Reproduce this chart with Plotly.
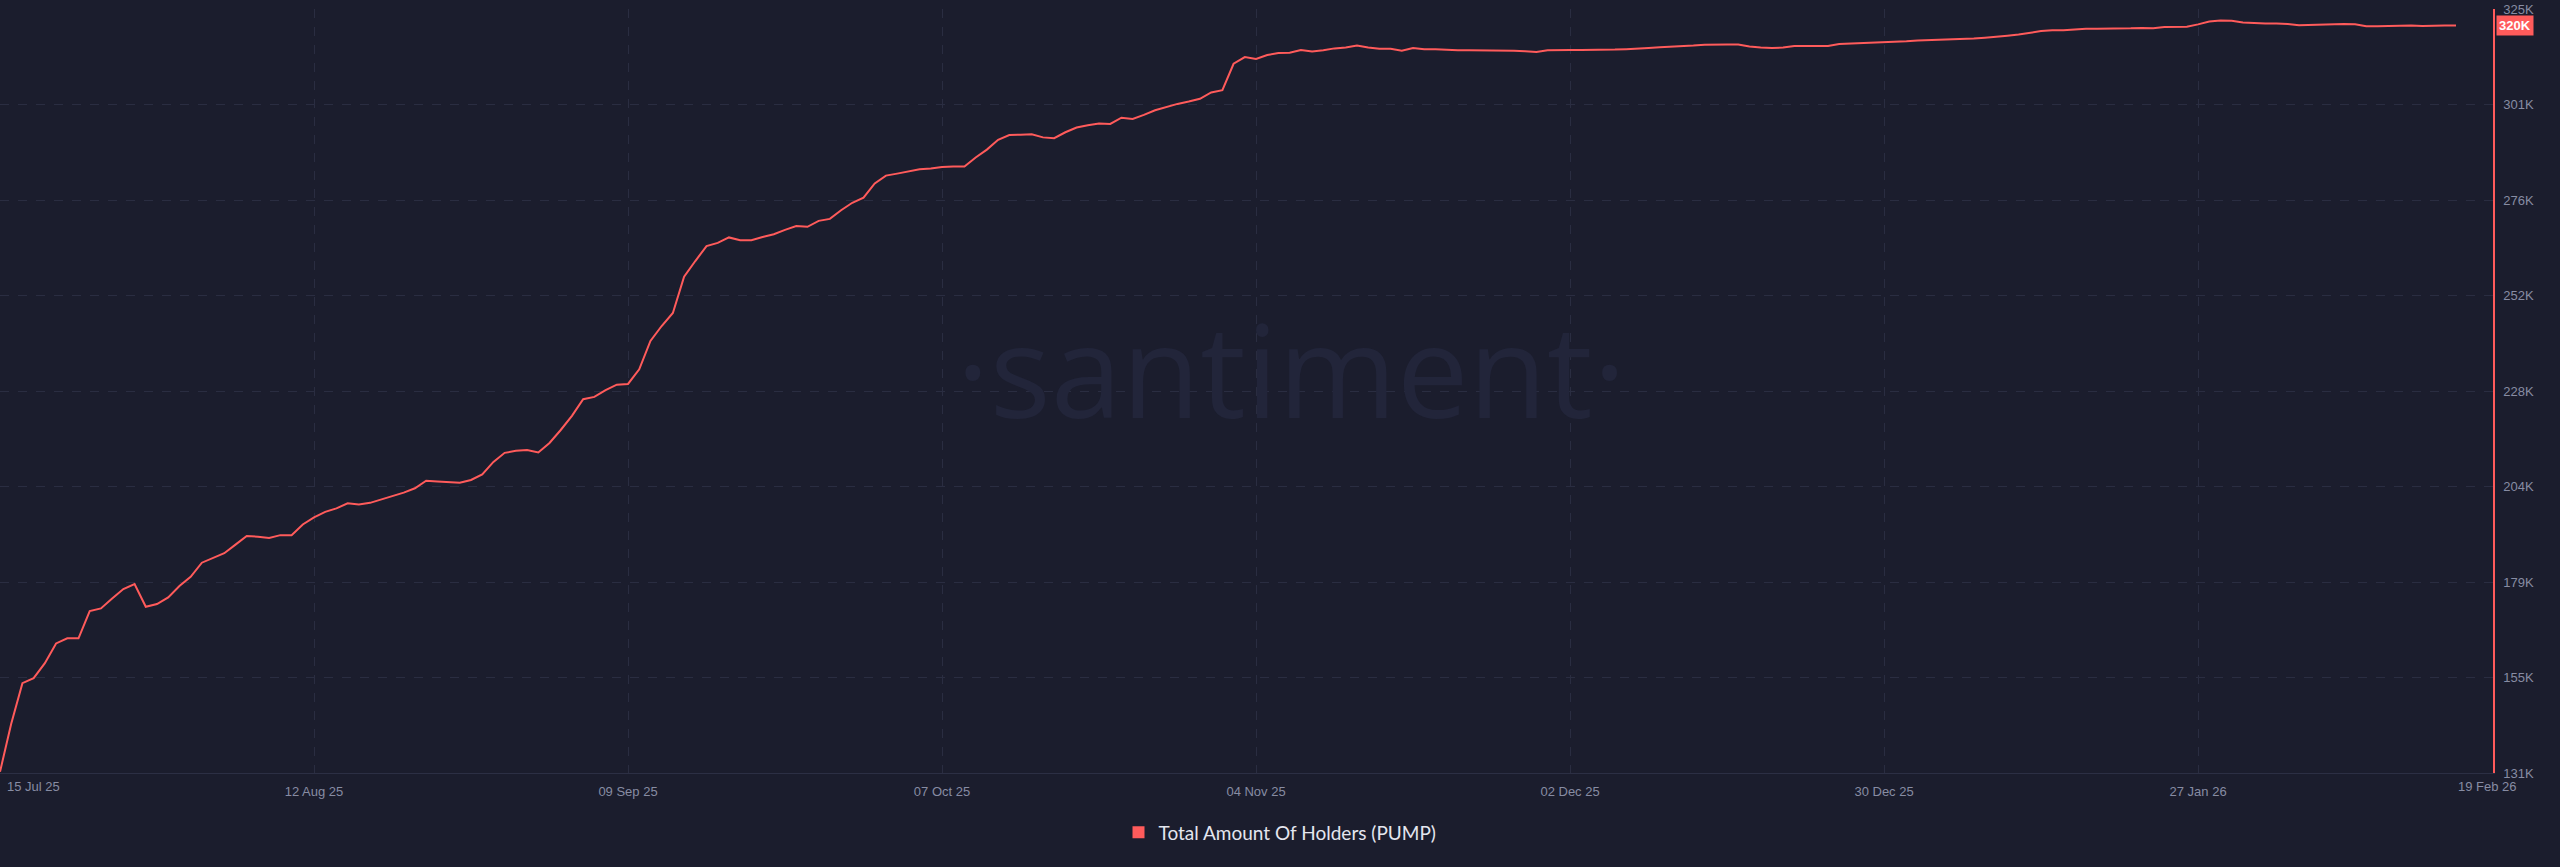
import pandas as pd
import plotly.graph_objects as go

# Total holders of PUMP, one value per day (thousands), 15 Jul 2025 -> 19 Feb 2026
jul_values = [131.3, 143.5, 153.8, 155.1, 158.9, 163.9, 165.2, 165.2, 172.1, 172.8,
              175.3, 177.7, 179.0, 173.2, 173.9, 175.6, 178.5]
aug_values = [180.8, 184.4, 185.6, 186.8, 189.0, 191.2, 191.0, 190.7, 191.4, 191.4,
              194.1, 195.9, 197.3, 198.2, 199.5, 199.2, 199.6, 200.5, 201.2, 202.2,
              203.3, 205.2, 205.0, 204.8, 204.7, 205.4, 206.8, 210.0, 212.3, 212.8, 213.0]
sep_values = [212.4, 214.8, 218.1, 221.7, 225.9, 226.5, 228.2, 229.6, 229.8, 233.5,
              240.7, 244.5, 247.8, 257.0, 261.0, 264.8, 265.6, 267.0, 266.3, 266.3,
              267.1, 267.8, 268.9, 269.9, 269.7, 271.2, 271.7, 273.9, 275.8, 277.1]
oct_values = [280.7, 282.7, 283.2, 283.8, 284.3, 284.5, 284.9, 285.0, 285.0, 287.3,
              289.3, 291.8, 293.0, 293.1, 293.2, 292.4, 292.2, 293.7, 294.9, 295.5,
              295.9, 295.8, 297.4, 297.1, 298.1, 299.3, 300.1, 300.9, 301.5, 302.2, 303.8]
nov_values = [304.4, 311.1, 312.8, 312.3, 313.3, 313.8, 313.9, 314.6, 314.2, 314.5,
              315.0, 315.2, 315.7, 315.2, 314.9, 314.9, 314.4, 315.1, 314.8, 314.8,
              314.6, 314.5, 314.5, 314.5, 314.4, 314.4, 314.4, 314.3, 314.1, 314.5]
dec_values = [314.6, 314.6, 314.6, 314.6, 314.7, 314.7, 314.8, 314.9, 315.1, 315.3,
              315.4, 315.5, 315.7, 315.9, 316.0, 316.0, 316.0, 315.5, 315.2, 315.1,
              315.2, 315.6, 315.6, 315.6, 315.6, 316.1, 316.2, 316.3, 316.4, 316.5, 316.6]
jan_values = [316.8, 317.0, 317.1, 317.1, 317.2, 317.3, 317.5, 317.7, 317.9, 318.2,
              318.5, 319.0, 319.4, 319.6, 319.6, 319.8, 320.0, 320.0, 320.0, 320.1,
              320.1, 320.2, 320.1, 320.4, 320.4, 320.5, 321.1, 321.8, 322.1, 322.0, 321.6]
feb_values = [321.4, 321.3, 321.3, 321.2, 320.9, 321.0, 321.0, 321.1, 321.2, 321.1,
              320.6, 320.6, 320.7, 320.8, 320.8, 320.7, 320.8, 320.8, 320.8]

start_date = "2025-07-15"
end_date = "2026-02-19"

y_tick_vals = [131000, 155250, 179500, 203750, 228000, 252250, 276500, 300750, 325000]
y_tick_text = ["131K", "155K", "179K", "204K", "228K", "252K", "276K", "301K", "325K"]
x_tick_vals = ["2025-08-12", "2025-09-09", "2025-10-07", "2025-11-04",
               "2025-12-02", "2025-12-30", "2026-01-27"]
x_tick_text = ["12 Aug 25", "09 Sep 25", "07 Oct 25", "04 Nov 25",
               "02 Dec 25", "30 Dec 25", "27 Jan 26"]
series_name = "Total Amount Of Holders (PUMP)"
last_label = "320K"

BG = "#1b1d2d"
RED = "#ff5b5b"
GRID = "#2a2d41"
TICK = "#878ca3"

holders = [v * 1000 for v in jul_values + aug_values + sep_values + oct_values
           + nov_values + dec_values + jan_values + feb_values]
dates = pd.date_range(start_date, end_date, freq="D")
df = pd.DataFrame({"datetime": dates, "holders": holders})

fig = go.Figure()

fig.add_trace(go.Scatter(
    x=df["datetime"],
    y=df["holders"],
    mode="lines",
    line=dict(color=RED, width=2),
    showlegend=False,
    hoverinfo="skip",
))

# square legend marker like the original
fig.add_trace(go.Scatter(
    x=[None], y=[None],
    mode="markers",
    marker=dict(symbol="square", size=12, color=RED),
    name=series_name,
))

x_end = pd.Timestamp(start_date) + pd.Timedelta(days=222.3)

fig.update_layout(
    width=2560,
    height=867,
    paper_bgcolor=BG,
    plot_bgcolor=BG,
    margin=dict(l=0, r=67, t=9, b=94),
    font=dict(family="Liberation Sans, Arial, sans-serif", size=13, color=TICK),
    legend=dict(
        orientation="h",
        xref="container", yref="container",
        x=0.5, xanchor="center",
        y=0.04, yanchor="middle",
        font=dict(family="Lato, sans-serif", size=19, color="#e4e6ef"),
        itemwidth=30,
    ),
    xaxis=dict(
        range=[pd.Timestamp(start_date), x_end],
        tickvals=x_tick_vals,
        ticktext=x_tick_text,
        ticks="outside", ticklen=6, tickcolor=BG,
        showgrid=True, gridcolor=GRID, griddash="dash", gridwidth=1,
        showline=True, linecolor="#2c2f44", linewidth=1,
        zeroline=False,
        tickfont=dict(size=13, color=TICK),
    ),
    yaxis=dict(
        side="right",
        range=[131000, 325000],
        tickvals=y_tick_vals,
        ticktext=y_tick_text,
        ticks="outside", ticklen=6, tickcolor=BG,
        showgrid=True, gridcolor=GRID, griddash="dash", gridwidth=1,
        showline=True, linecolor=RED, linewidth=1.5,
        zeroline=False,
        tickfont=dict(size=13, color=TICK),
    ),
)

# edge date labels
fig.add_annotation(
    x=0, xref="paper", y=-0.005, yref="paper",
    xanchor="left", yanchor="top", xshift=5,
    text="15 Jul 25", showarrow=False,
    font=dict(size=13, color=TICK),
)
fig.add_annotation(
    x=1, xref="paper", y=-0.005, yref="paper",
    xanchor="center", yanchor="top", xshift=-6,
    text="19 Feb 26", showarrow=False,
    font=dict(size=13, color=TICK),
)

# last value badge
fig.add_annotation(
    x=1, xref="paper", y=holders[-1], yref="y",
    xanchor="left", yanchor="middle", xshift=3,
    text=f"<b>{last_label}</b>", showarrow=False,
    bgcolor=RED, borderpad=2,
    font=dict(size=13, color="#ffffff"),
)

# watermark
fig.add_annotation(
    x=0.518, xref="paper", y=0.53, yref="paper",
    text="·santiment·", showarrow=False,
    font=dict(family="Open Sans, sans-serif", size=128, color="#22253a"),
)

# drop the default page margin so the chart sits flush in the window
fig.write_html(
    "out.html",
    config={"displayModeBar": False},
    post_script="document.body.style.margin='0';",
)
